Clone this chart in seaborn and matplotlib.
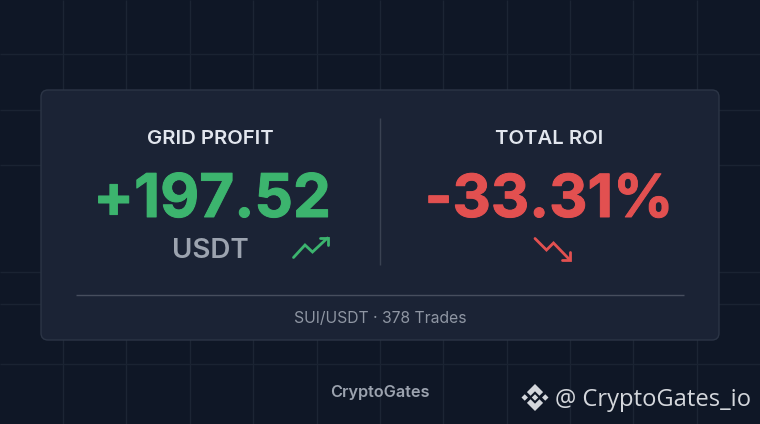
#IMPORTING NECESSARY LIBRARIES
import matplotlib
matplotlib.use("Agg")
import matplotlib.pyplot as plt
from matplotlib.patches import FancyBboxPatch, Polygon
import matplotlib.patheffects as pe
import pandas as pd
import seaborn as sns

#CHART TEXT AND VALUES
labels = ["GRID PROFIT", "TOTAL ROI"]
values = ["+197.52", "-33.31%"]
unit = "USDT"
footer = "SUI/USDT · 378 Trades"
brand = "CryptoGates"
handle = "@ CryptoGates_io"

#BACKGROUND GRID POSITIONS
grid_x = [63, 126, 190, 253, 317, 380, 443, 507, 570, 633, 697]
grid_y = [54, 110, 165, 272, 304, 364]

#TREND ICONS
up_x = [293.5, 305, 312.5, 327.5]
up_y = [257.5, 245, 252, 238]
up_head_x = [320, 328, 328]
up_head_y = [237.5, 237.5, 245]
down_x = [535, 546.5, 553.5, 569]
down_y = [238.5, 250, 243, 259]
down_head_x = [569.5, 569.5, 562]
down_head_y = [251.5, 259.5, 259.5]

#COLOURS
bg = "#0f1726"
card = "#1b2335"
green = "#3cb46e"
red = "#e25050"

sns.set_theme(style="dark")
plt.rcParams["font.family"] = ["Inter", "DejaVu Sans"]

fig = plt.figure(figsize=(7.6, 4.24), dpi=100, facecolor=bg)
ax = fig.add_axes([0, 0, 1, 1])
ax.set_facecolor(bg)

#GRID BEHIND THE CARD
ax.vlines(grid_x, 0, 424, color="#1c2534", lw=1, zorder=1)
ax.hlines(grid_y, 0, 760, color="#1a2332", lw=1, zorder=1)

#CARD
ax.add_patch(FancyBboxPatch((41, 90), 678, 250, boxstyle="round,pad=0,rounding_size=7",
                            fc=card, ec="#2c3546", lw=1, zorder=2))
ax.vlines(380, 118, 265, color="#3a4252", lw=1, zorder=3)
ax.hlines(295, 76, 684, color="#474e5e", lw=1, zorder=3)

#TEXTS
ax.text(210.5, 143.5, labels[0], color="#e2e6ee", fontsize=14.6, fontweight="semibold", ha="center", zorder=4)
ax.text(549, 143.5, labels[1], color="#e2e6ee", fontsize=14.6, fontweight="semibold", ha="center", zorder=4)
big_green = ax.text(212, 217, values[0], color=green, fontsize=43.4, fontweight="bold", ha="center", zorder=4)
big_red = ax.text(549, 217, values[1], color=red, fontsize=42.8, fontweight="bold", ha="center", zorder=4)
big_green.set_path_effects([pe.withStroke(linewidth=0.7, foreground=green)])
big_red.set_path_effects([pe.withStroke(linewidth=0.7, foreground=red)])
ax.text(210, 258.5, unit, color="#9ca3af", fontsize=20, fontweight="semibold", ha="center", zorder=4)
ax.text(380, 323, footer, color="#8f96a3", fontsize=11.3, ha="center", zorder=4)
ax.text(380, 397, brand, color="#9ca3af", fontsize=11.7, fontweight="semibold", ha="center", zorder=4)
ax.text(555, 406, handle, color="#d4d7dc", fontsize=17.1, family=["Open Sans", "DejaVu Sans"], ha="left", zorder=4)

#TREND ICONS
for xs, ys, col in [(up_x, up_y, green), (up_head_x, up_head_y, green),
                    (down_x, down_y, red), (down_head_x, down_head_y, red)]:
    icon = pd.DataFrame({"x": xs, "y": ys})
    sns.lineplot(data=icon, x="x", y="y", sort=False, estimator=None, color=col, lw=2,
                 ax=ax, zorder=4, solid_capstyle="round", solid_joinstyle="miter")

#WATERMARK LOGO
cx, cy, r = 535, 397.5, 13.5
shapes = [
    [(0, -1), (.6, -.4), (.33, -.13), (0, -.46), (-.33, -.13), (-.6, -.4)],
    [(0, 1), (.6, .4), (.33, .13), (0, .46), (-.33, .13), (-.6, .4)],
    [(0, -.24), (.24, 0), (0, .24), (-.24, 0)],
    [(-.76, -.24), (-.52, 0), (-.76, .24), (-1, 0)],
    [(.76, -.24), (1, 0), (.76, .24), (.52, 0)],
]
for s in shapes:
    ax.add_patch(Polygon([(cx + a * r, cy + b * r) for a, b in s], fc="#d4d7dc", ec="none", zorder=4))

ax.set_xlim(0, 760)
ax.set_ylim(424, 0)
ax.axis("off")
fig.savefig("out.png", dpi=100, facecolor=bg)
